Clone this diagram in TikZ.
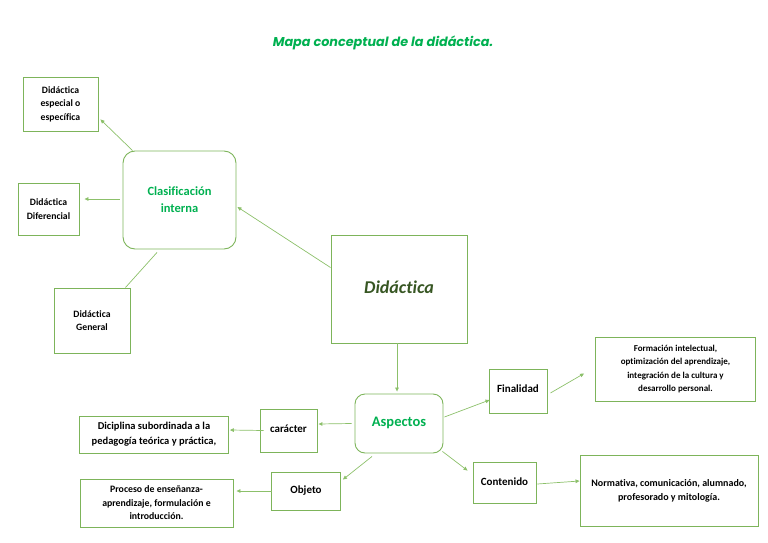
\documentclass[tikz,border=0pt]{standalone}
\usepackage{fontspec}
\setmainfont{Carlito}[Ligatures={NoCommon}]
\newfontfamily\titlefont{Poppins}
\usetikzlibrary{arrows.meta}
\definecolor{boxgreen}{HTML}{7DB45A}
\definecolor{linegreen}{HTML}{8CC06A}
\definecolor{txtgreen}{HTML}{00B050}
\definecolor{darkgreen}{HTML}{375623}
\tikzset{
  box/.style={draw=boxgreen, line width=0.9pt, align=center, inner sep=2pt,
    font=\fontsize{9.7}{13.5}\selectfont\bfseries, text=black},
  wordbox/.style={box, font=\fontsize{11}{13}\selectfont\bfseries},
  rbox/.style={box, rounded corners=12pt},
  conn/.style={draw=linegreen, line width=0.7pt, -{Triangle[length=4pt,width=3.6pt]}},
  plainconn/.style={draw=linegreen, line width=0.7pt},
}
\begin{document}
\begin{tikzpicture}[x=1pt,y=-1pt]
\useasboundingbox (0,0) rectangle (768,543);
\node (title) at (383,43) {\titlefont\fontsize{12.8}{15}\selectfont\bfseries\itshape\color{txtgreen}Mapa conceptual de la didáctica.};
\node[box, minimum width=75pt, minimum height=54pt] (esp) at (60.5,104) {\raisebox{4pt}{\parbox{70pt}{\centering Didáctica\\especial o\\específica}}};
\node[box, minimum width=61pt, minimum height=52pt] (dif) at (48.5,209) {\raisebox{3.5pt}{\parbox{56pt}{\centering Didáctica\\Diferencial}}};
\node[box, minimum width=76pt, minimum height=65pt] (gen) at (92,320.5) {\raisebox{3.5pt}{\parbox{70pt}{\centering Didáctica\\General}}};
\node[rbox, minimum width=113pt, minimum height=98pt, font=\fontsize{12.5}{17}\selectfont\bfseries, text=txtgreen] (clas) at (179.5,200) {\raisebox{3.5pt}{\parbox{105pt}{\centering Clasificación\\interna}}};
\node[box, minimum width=136pt, minimum height=108pt, font=\fontsize{18}{20}\selectfont\bfseries\itshape, text=darkgreen] (did) at (399,289) {\raisebox{3pt}{Didáctica}};
\node[rbox, rounded corners=10pt, minimum width=88pt, minimum height=59pt, font=\fontsize{14.5}{16}\selectfont\bfseries, text=txtgreen] (asp) at (399,423.5) {\raisebox{4pt}{Aspectos}};
\node[wordbox, minimum width=57pt, minimum height=43pt] (car) at (288.5,430.5) {\raisebox{3.5pt}{carácter}};
\node[box, minimum width=149pt, minimum height=37pt, font=\fontsize{10.5}{15}\selectfont\bfseries] (dic) at (154,434.5) {\raisebox{3pt}{\parbox{145pt}{\centering Diciplina subordinada a la\\pedagogía teórica y práctica,}}};
\node[wordbox, minimum width=69pt, minimum height=38pt] (obj) at (306,491) {\raisebox{1pt}{Objeto}};
\node[box, minimum width=153pt, minimum height=48pt, font=\fontsize{9.8}{13.5}\selectfont\bfseries] (pro) at (156.5,503) {\raisebox{0.5pt}{\parbox{148pt}{\centering Proceso de enseñanza-\\aprendizaje, formulación e\\introducción.}}};
\node[wordbox, minimum width=58pt, minimum height=44pt] (fin) at (518,391) {\raisebox{4pt}{Finalidad}};
\node[box, minimum width=160pt, minimum height=64pt, font=\fontsize{9}{13.5}\selectfont\bfseries] (form) at (675.5,369) {\raisebox{2pt}{\parbox{155pt}{\centering Formación intelectual,\\optimización del aprendizaje,\\integración de la cultura y\\desarrollo personal.}}};
\node[wordbox, minimum width=63pt, minimum height=41pt] (con) at (504.5,482.5) {\raisebox{2pt}{Contenido}};
\node[box, minimum width=178pt, minimum height=71pt, font=\fontsize{10}{14}\selectfont\bfseries] (norm) at (669,491) {\raisebox{4pt}{\parbox{174pt}{\centering Normativa, comunicación, alumnado,\\profesorado y mitología.}}};
% connectors
\draw[conn] ([xshift=10pt]clas.north west) -- ([xshift=2pt,yshift=12pt]esp.south east);
\draw[conn] ([xshift=-3pt,yshift=1pt]clas.west) -- ([xshift=5pt,yshift=10pt]dif.east);
\draw[plainconn] ([xshift=-22.5pt,yshift=-3pt]clas.south) -- ([xshift=-5pt]gen.north east);
\draw[conn] ([yshift=-33pt]did.north west) -- ([xshift=1pt,yshift=-7pt]clas.east);
\draw[conn] ([xshift=-2pt]did.south) -- ([xshift=-2pt,yshift=2pt]asp.north);
\draw[conn] ([xshift=1pt,yshift=6.5pt]asp.east) -- ([xshift=1pt,yshift=-9pt]fin.west);
\draw[conn] ([xshift=3pt,yshift=-2pt]fin.east) -- ([xshift=-11pt,yshift=-4.5pt]form.west);
\draw[conn] ([xshift=-1pt,yshift=2pt]asp.south east) -- ([xshift=-5pt,yshift=-9pt]con.north west);
\draw[conn] ([xshift=1pt,yshift=-1.5pt]con.east) -- ([yshift=10pt]norm.west);
\draw[conn] ([xshift=-3pt]asp.west) -- ([xshift=1pt,yshift=6.5pt]car.east);
\draw[conn] ([xshift=4pt]car.west) -- ([xshift=1pt,yshift=4.5pt]dic.east);
\draw[conn] ([xshift=-27pt,yshift=-3pt]asp.south) -- ([xshift=2pt,yshift=-8pt]obj.north east);
\draw[conn] ([xshift=1pt]obj.west) -- ([xshift=3pt,yshift=12pt]pro.east);
\end{tikzpicture}
\end{document}
